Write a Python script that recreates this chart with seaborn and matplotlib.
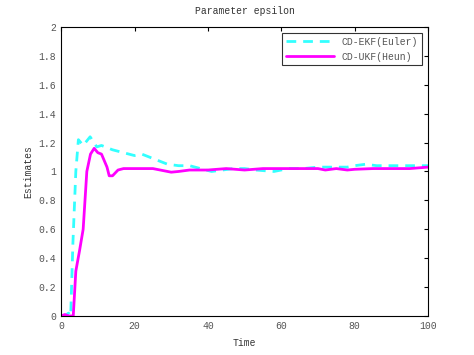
import numpy as np
import pandas as pd
import seaborn as sns
import matplotlib
matplotlib.use("Agg")
import matplotlib.pyplot as plt
from matplotlib.ticker import FuncFormatter

# CD-EKF (Euler) estimates
ekf_t = [0, 1, 2, 2.6, 3.2, 4.0, 4.7, 6.0, 7.9, 9.7, 11, 14, 17, 20, 22, 25, 29, 32, 35, 38,
         41, 44, 47, 50, 53, 58, 62, 66, 70, 74, 78, 80, 83, 86, 90, 95, 100]
ekf_v = [0, 0.0, 0.02, 0.0, 0.5, 1.0, 1.22, 1.18, 1.24, 1.17, 1.18, 1.15, 1.13, 1.11, 1.12,
         1.09, 1.05, 1.04, 1.04, 1.02, 1.0, 1.01, 1.02, 1.02, 1.01, 1.0, 1.02, 1.02, 1.03,
         1.03, 1.03, 1.04, 1.05, 1.04, 1.04, 1.04, 1.04]

# CD-UKF (Heun) estimates
ukf_t = [0, 1, 2, 3.3, 4.0, 5.0, 6.0, 7.0, 8.0, 9.0, 10, 11, 12.5, 13.1, 14, 15.5, 17, 20, 22,
         25, 27, 29, 30, 32, 35, 40, 45, 50, 55, 60, 65, 70, 72, 75, 78, 80, 85, 90, 95, 100]
ukf_v = [0, 0.01, 0.0, 0.0, 0.31, 0.45, 0.6, 1.0, 1.12, 1.16, 1.13, 1.12, 1.03, 0.97, 0.97,
         1.01, 1.02, 1.02, 1.02, 1.02, 1.01, 1.0, 0.995, 1.0, 1.01, 1.01, 1.02, 1.01, 1.02,
         1.02, 1.02, 1.02, 1.01, 1.02, 1.01, 1.015, 1.02, 1.02, 1.02, 1.03]

df = pd.concat([
    pd.DataFrame({"Time": ekf_t, "Estimates": ekf_v, "filter": "CD-EKF(Euler)"}),
    pd.DataFrame({"Time": ukf_t, "Estimates": ukf_v, "filter": "CD-UKF(Heun)"}),
])

sns.set_style("white")
plt.rcParams["font.family"] = ["Liberation Mono", "DejaVu Sans Mono"]

fig = plt.figure(figsize=(4.74, 3.55), dpi=100)
ax = fig.add_axes([0.129, 0.110, 0.774, 0.814])

sns.lineplot(data=df, x="Time", y="Estimates", hue="filter", style="filter",
             palette={"CD-EKF(Euler)": "#33ffff", "CD-UKF(Heun)": "#ff00ff"},
             dashes={"CD-EKF(Euler)": (3.5, 2.5), "CD-UKF(Heun)": ""},
             linewidth=2, ax=ax, sort=False)

ax.set_xlim(0, 100)
ax.set_ylim(0, 2)
ax.set_xticks(np.arange(0, 101, 20))
ax.set_yticks(np.arange(0, 2.01, 0.2))
ax.yaxis.set_major_formatter(FuncFormatter(lambda v, p: f"{v:g}"))

gray = "#555555"
ax.tick_params(direction="in", top=True, right=True, length=3, width=0.8,
               labelsize=7, labelcolor=gray, color="black")
for s in ax.spines.values():
    s.set_color("black")
    s.set_linewidth(0.8)

ax.set_title("Parameter epsilon", fontsize=7, color="#333333", pad=9)
ax.set_xlabel("Time", fontsize=7, color="#333333", labelpad=5)
ax.set_ylabel("Estimates", fontsize=7, color="#333333", labelpad=4)

leg = ax.legend(loc="upper right", fontsize=7, frameon=True, fancybox=False,
                handlelength=5, borderaxespad=0.6)
leg.get_frame().set_edgecolor("black")
leg.get_frame().set_linewidth(0.8)
for t in leg.get_texts():
    t.set_color(gray)

fig.savefig("out.png", dpi=100)
